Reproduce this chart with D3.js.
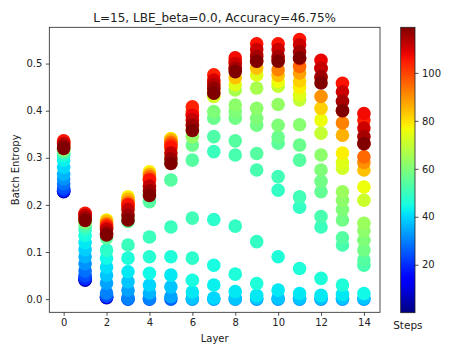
<!DOCTYPE html>
<html><head><meta charset="utf-8">
<script src="https://cdn.jsdelivr.net/npm/d3@7"></script>
<style>
html,body{margin:0;padding:0;background:#fff;}
text{font-family:"DejaVu Sans",sans-serif;fill:#222;}
</style></head>
<body><svg id="c" width="474" height="355"></svg>
<script>
// ---- data: [step, batch entropy] per layer ----
const layer0 = [[0,0.228],[10,0.229],[20,0.231],[24,0.236],[28,0.245],[32,0.255],[36,0.265],[40,0.28],[43,0.295],[46,0.305],[50,0.31],[60,0.315],[70,0.32],[80,0.325],[90,0.33],[100,0.333],[106,0.336],[112,0.33],[116,0.325],[119,0.32]];
const layer1 = [[0,0.04],[12,0.042],[20,0.044],[24,0.05],[28,0.06],[32,0.075],[36,0.09],[39,0.105],[42,0.12],[45,0.135],[48,0.147],[52,0.155],[60,0.162],[70,0.168],[80,0.172],[90,0.176],[100,0.18],[106,0.182],[112,0.178],[116,0.172],[119,0.167]];
const layer2 = [[0,0.003],[15,0.004],[24,0.006],[30,0.013],[34,0.034],[38,0.051],[41,0.068],[44,0.087],[48,0.104],[55,0.13],[65,0.15],[72,0.16],[77,0.168],[85,0.165],[92,0.16],[100,0.157],[106,0.153],[112,0.148],[116,0.14],[119,0.136]];
const layer3 = [[22,0],[28,0.001],[30,0.002],[34,0.019],[38,0.037],[42,0.058],[46,0.087],[50,0.115],[56,0.165],[62,0.175],[68,0.19],[74,0.205],[78,0.217],[86,0.212],[94,0.205],[100,0.2],[106,0.2],[112,0.19],[116,0.178],[119,0.168]];
const layer4 = [[24,0],[30,0.001],[36,0.013],[40,0.03],[44,0.055],[47,0.09],[50,0.132],[54,0.207],[62,0.225],[68,0.24],[74,0.255],[78,0.27],[86,0.265],[94,0.26],[100,0.255],[106,0.253],[112,0.24],[116,0.23],[119,0.22]];
const layer5 = [[26,0],[34,0.005],[38,0.026],[42,0.051],[46,0.09],[50,0.153],[54,0.253],[60,0.29],[66,0.3],[72,0.32],[78,0.341],[86,0.338],[94,0.333],[100,0.328],[106,0.323],[112,0.31],[116,0.298],[119,0.288]];
const layer6 = [[32,0],[38,0.002],[42,0.015],[45,0.04],[48,0.087],[51,0.172],[54,0.295],[57,0.327],[63,0.345],[70,0.36],[78,0.37],[86,0.38],[94,0.39],[100,0.398],[104,0.408],[108,0.39],[112,0.38],[116,0.369],[119,0.358]];
const layer7 = [[32,0],[40,0.002],[43,0.03],[45,0.072],[48,0.169],[50,0.313],[53,0.345],[57,0.384],[60,0.398],[72,0.43],[80,0.44],[88,0.45],[96,0.46],[104,0.476],[110,0.465],[114,0.455],[117,0.447],[119,0.437]];
const layer8 = [[32,0],[38,0.0015],[42,0.016],[46,0.053],[49,0.155],[52,0.306],[54,0.336],[58,0.384],[60,0.398],[62,0.412],[66,0.444],[74,0.455],[84,0.47],[94,0.49],[102,0.505],[107,0.512],[111,0.5],[115,0.49],[119,0.483]];
const layer9 = [[32,0],[38,0.002],[42,0.008],[46,0.033],[49,0.122],[52,0.274],[54,0.309],[58,0.369],[60,0.384],[62,0.405],[66,0.448],[74,0.476],[84,0.49],[94,0.505],[100,0.52],[106,0.542],[111,0.53],[115,0.515],[119,0.505]];
const layer10 = [[32,0],[38,0.002],[42,0.019],[46,0.09],[49,0.231],[51,0.26],[55,0.331],[57,0.344],[60,0.369],[63,0.413],[70,0.452],[76,0.462],[84,0.475],[92,0.487],[100,0.51],[106,0.542],[111,0.53],[115,0.515],[119,0.505]];
const layer11 = [[32,0],[38,0.002],[42,0.012],[46,0.065],[49,0.195],[51,0.217],[54,0.295],[57,0.327],[61,0.37],[70,0.423],[74,0.434],[78,0.45],[82,0.463],[88,0.48],[95,0.494],[101,0.51],[106,0.551],[111,0.54],[115,0.525],[119,0.512]];
const layer12 = [[32,0],[38,0.002],[42,0.008],[46,0.044],[50,0.153],[52,0.175],[56,0.228],[58,0.25],[60,0.274],[62,0.306],[70,0.352],[76,0.38],[82,0.405],[90,0.43],[97,0.47],[103,0.49],[108,0.507],[112,0.49],[116,0.472],[119,0.459]];
const layer13 = [[32,0],[38,0.002],[42,0.01],[46,0.03],[52,0.115],[54,0.13],[58,0.168],[60,0.19],[62,0.21],[64,0.228],[72,0.278],[74,0.29],[78,0.31],[86,0.348],[92,0.374],[100,0.4],[106,0.458],[111,0.44],[115,0.42],[119,0.4]];
const layer14 = [[32,0],[38,0.002],[44,0.012],[52,0.072],[54,0.083],[58,0.104],[60,0.125],[62,0.145],[64,0.161],[71,0.21],[76,0.238],[84,0.274],[90,0.29],[95,0.302],[102,0.33],[104,0.38],[107,0.394],[111,0.363],[115,0.345],[119,0.33]];
const layers = [layer0,layer1,layer2,layer3,layer4,layer5,layer6,layer7,layer8,layer9,layer10,layer11,layer12,layer13,layer14];

const xTicks = [0,2,4,6,8,10,12,14];
const yTicks = [0.0,0.1,0.2,0.3,0.4,0.5];
const cTicks = [20,40,60,80,100];
const stepRange = [0,119];
const titleText = "L=15, LBE_beta=0.0, Accuracy=46.75%";

// ---- jet colormap ----
const jr = d3.scaleLinear().domain([0,0.35,0.66,0.89,1]).range([0,0,1,1,0.5]).clamp(true);
const jg = d3.scaleLinear().domain([0,0.125,0.375,0.64,0.91,1]).range([0,0,1,1,0,0]).clamp(true);
const jb = d3.scaleLinear().domain([0,0.11,0.34,0.65,1]).range([0.5,1,1,0,0]).clamp(true);
function jet(t){return d3.rgb(jr(t)*255,jg(t)*255,jb(t)*255).formatHex();}
const cnorm = d3.scaleLinear().domain(stepRange).range([0,1]).clamp(true);
const color = s => jet(cnorm(s));

const svg = d3.select("#c");
const L=49.3,R=380,T=27.3,B=312.3;
const x = d3.scaleLinear().domain([-0.67,14.75]).range([L,R]);
const y = d3.scaleLinear().domain([-0.028,0.577]).range([B,T]);

// points sorted by step
const pts=[];
layers.forEach((arr,li)=>arr.forEach(d=>pts.push({layer:li,step:d[0],v:d[1]})));
pts.sort((a,b)=>a.step-b.step || a.layer-b.layer);
svg.append("g").selectAll("circle").data(pts).join("circle")
  .attr("cx",d=>x(d.layer)).attr("cy",d=>y(d.v)).attr("r",6.8)
  .attr("fill",d=>color(d.step));

// frame
svg.append("rect").attr("x",L).attr("y",T).attr("width",R-L).attr("height",B-T)
  .attr("fill","none").attr("stroke","#222").attr("stroke-width",0.8);

// axes
const xa = svg.append("g").attr("transform",`translate(0,${B})`)
  .call(d3.axisBottom(x).tickValues(xTicks).tickFormat(d3.format("d")).tickSize(3.5).tickPadding(3.5));
const ya = svg.append("g").attr("transform",`translate(${L},0)`)
  .call(d3.axisLeft(y).tickValues(yTicks).tickFormat(d3.format(".1f")).tickSize(3.5).tickPadding(3.5));
[xa,ya].forEach(g=>{
  g.select(".domain").remove();
  g.selectAll("line").attr("stroke","#222").attr("stroke-width",0.8);
  g.selectAll("text").attr("font-size",10).attr("font-family","DejaVu Sans").attr("fill","#222");
});

svg.append("text").attr("x",(L+R)/2).attr("y",21.5).attr("text-anchor","middle")
  .attr("font-size",12).text(titleText);
svg.append("text").attr("x",(L+R)/2).attr("y",341.5).attr("text-anchor","middle")
  .attr("font-size",10).text("Layer");
svg.append("text").attr("transform",`translate(18.5,${(T+B)/2}) rotate(-90)`).attr("text-anchor","middle")
  .attr("font-size",10).text("Batch Entropy");

// colorbar
const CL=400.7, CR=415, CT=27.3, CB=312.7;
const cy = d3.scaleLinear().domain(stepRange).range([CB,CT]);
const defs = svg.append("defs");
const grad = defs.append("linearGradient").attr("id","jetg").attr("x1",0).attr("y1",1).attr("x2",0).attr("y2",0);
d3.range(0,1.0001,0.02).forEach(t=>grad.append("stop").attr("offset",t).attr("stop-color",jet(t)));
svg.append("rect").attr("x",CL).attr("y",CT).attr("width",CR-CL).attr("height",CB-CT)
  .attr("fill","url(#jetg)").attr("stroke","#222").attr("stroke-width",0.8);
const ca = svg.append("g").attr("transform",`translate(${CR},0)`)
  .call(d3.axisRight(cy).tickValues(cTicks).tickSize(3.5).tickPadding(3.5));
ca.select(".domain").remove();
ca.selectAll("line").attr("stroke","#222").attr("stroke-width",0.8);
ca.selectAll("text").attr("font-size",10).attr("font-family","DejaVu Sans").attr("fill","#222");
svg.append("text").attr("x",(CL+CR)/2).attr("y",328.5).attr("text-anchor","middle")
  .attr("font-size",10.5).text("Steps");
</script></body></html>
